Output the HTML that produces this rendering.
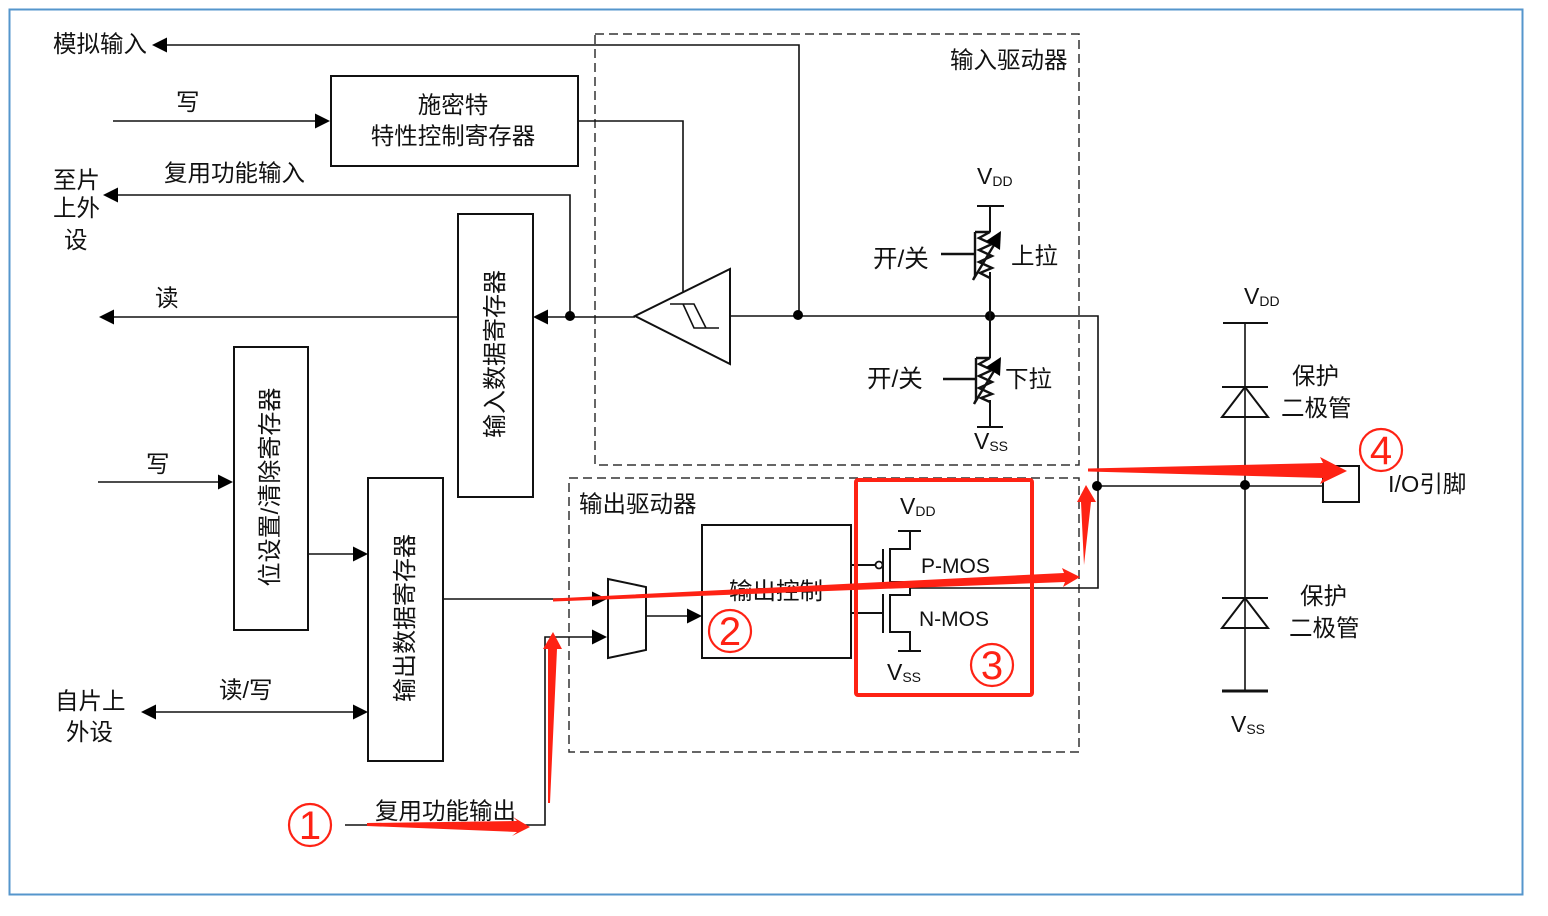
<!DOCTYPE html>
<html lang="zh"><head><meta charset="utf-8"><title>I/O diagram</title>
<style>
html,body{margin:0;padding:0;background:#fff}
svg{display:block}
text{font-family:"Liberation Sans","Noto Sans CJK SC",sans-serif;font-size:23.5px;fill:#111}
.l{stroke:#111;stroke-width:1.6;fill:none}
.b{stroke:#111;stroke-width:2;fill:#fff}
.d{stroke:#333;stroke-width:1.5;fill:none;stroke-dasharray:9 5}
.a{fill:#000;stroke:none}
.r{fill:#fe2214;stroke:none}
.c{fill:none;stroke:#fe2214;stroke-width:2.2}
.n{fill:#fe2214;font-size:40px;text-anchor:middle}
.v{font-size:23px}
.s{font-size:14px}
.m{font-size:21px}
.t{font-size:24px}
</style></head><body>
<svg width="1548" height="916" viewBox="0 0 1548 916" xmlns="http://www.w3.org/2000/svg">
<rect x="9.500" y="9.500" width="1513" height="885" fill="#fff" stroke="#5596cc" stroke-width="2"/>

<rect class="d" x="595" y="34" width="484" height="431"/>
<rect class="d" x="569" y="478" width="510" height="274"/>

<!-- wires -->
<path class="l" d="M160 45H799V316"/>
<path class="l" d="M113 121H320"/>
<path class="l" d="M578 121H683V293"/>
<path class="l" d="M110 195H570V316"/>
<path class="l" d="M108 317H458"/>
<path class="l" d="M540 317H635"/>
<path class="l" d="M730 316H1098V588H910"/>
<path class="l" d="M98 482H225"/>
<path class="l" d="M308 554H360"/>
<path class="l" d="M150 712H360"/>
<path class="l" d="M444 599H600"/>
<path class="l" d="M345 825H545V637H600"/>
<path class="l" d="M646 616H692"/>
<path class="l" d="M1098 486H1323"/>
<path class="l" d="M1245 323V691"/>

<!-- boxes -->
<rect class="b" x="331" y="76" width="247" height="90"/>
<rect class="b" x="458" y="214" width="75" height="283"/>
<rect class="b" x="234" y="347" width="74" height="283"/>
<rect class="b" x="368" y="478" width="75" height="283"/>
<rect class="b" x="702" y="525" width="149" height="133"/>
<path class="b" d="M608 579L646 587V650L608 658Z"/>
<rect class="b" x="1323" y="466" width="36" height="36"/>

<!-- arrowheads -->
<path class="a" d="M152 45L167 37.500V52.500Z"/>
<path class="a" d="M330 121L315 113.500V128.500Z"/>
<path class="a" d="M103 195L118 187.500V202.500Z"/>
<path class="a" d="M99 317L114 309.500V324.500Z"/>
<path class="a" d="M533 317L548 309.500V324.500Z"/>
<path class="a" d="M233 482L218 474.500V489.500Z"/>
<path class="a" d="M368 554L353 546.500V561.500Z"/>
<path class="a" d="M141 712L156 704.500V719.500Z"/>
<path class="a" d="M368 712L353 704.500V719.500Z"/>
<path class="a" d="M607 599L592 591.500V606.500Z"/>
<path class="a" d="M607 637L592 629.500V644.500Z"/>
<path class="a" d="M702 616L687 608.500V623.500Z"/>

<!-- junctions -->
<circle cx="570" cy="316" r="5" fill="#000"/>
<circle cx="798" cy="315" r="5" fill="#000"/>
<circle cx="990" cy="316" r="5" fill="#000"/>
<circle cx="1097" cy="486" r="5" fill="#000"/>
<circle cx="1245" cy="485" r="5" fill="#000"/>

<!-- schmitt -->
<path class="b" d="M635 316L730 269V364Z"/>
<path class="l" d="M670 304H694L706 328M683 304L694 328H719"/>

<!-- pull up -->
<path class="l" style="stroke-width:2" d="M977 206H1004M990 206V232M990 272V316"/>
<path class="l" style="stroke-width:2.400" d="M975 232H990L979 238L992 244L979 250L992 256L979 262L992 268L980 273L990 278"/>
<path class="l" style="stroke-width:2.400" d="M941 254H975M975 232V276L973 280M973 280L997 240"/>
<path class="a" d="M1001 231L1000 250L986 241Z"/>
<!-- pull down -->
<path class="l" style="stroke-width:2" d="M990 316V358M990 400V427M977 427H1003"/>
<path class="l" style="stroke-width:2.400" d="M976 358H990L979 364L992 370L979 376L992 382L979 388L992 394L981 398L990 402"/>
<path class="l" style="stroke-width:2.400" d="M943 379H976M976 358V400L974 404M974 404L997 366"/>
<path class="a" d="M1001 357L1000 376L986 367Z"/>

<!-- mos -->
<path class="l" style="stroke-width:2" d="M898 531H921M910 531V549H890V582H910M883 549V582M852 565H875"/>
<circle cx="879" cy="565" r="3.500" fill="#fff" stroke="#111" stroke-width="1.800"/>
<path class="l" style="stroke-width:2" d="M910 581V595H890V632H910V651M898 651H921M883 594V633M852 613H883"/>

<!-- diodes -->
<path class="l" style="stroke-width:2" d="M1223 323H1268M1222 387H1268M1245 387L1222 417H1268ZM1222 598H1268M1245 598L1222 628H1268Z"/>
<path class="l" style="stroke-width:3" d="M1222 691H1268"/>

<!-- labels -->
<text x="53" y="52">模拟输入</text>
<text x="176" y="110">写</text>
<text x="453" y="113" text-anchor="middle">施密特</text>
<text x="453" y="144" text-anchor="middle">特性控制寄存器</text>
<text x="164" y="181">复用功能输入</text>
<text x="53" y="188">至片</text>
<text x="53" y="216">上外</text>
<text x="64" y="248">设</text>
<text x="155" y="306">读</text>
<text x="146" y="472">写</text>
<text x="219" y="698">读/写</text>
<text x="55" y="709">自片上</text>
<text x="66" y="740">外设</text>
<text x="375" y="819">复用功能输出</text>
<text x="950" y="68">输入驱动器</text>
<text x="579" y="512">输出驱动器</text>
<text x="873" y="267" style="font-size:24.500px">开/关</text>
<text x="1011" y="264">上拉</text>
<text x="867" y="387" style="font-size:24.500px">开/关</text>
<text x="1005" y="387">下拉</text>
<text x="729" y="599">输出控制</text>
<text class="t" transform="translate(503,354) rotate(-90)" text-anchor="middle">输入数据寄存器</text>
<text class="t" transform="translate(278,487) rotate(-90)" text-anchor="middle">位设置/清除寄存器</text>
<text class="t" transform="translate(413,618) rotate(-90)" text-anchor="middle">输出数据寄存器</text>
<text class="m" x="921" y="573">P-MOS</text>
<text class="m" x="919" y="626">N-MOS</text>
<text x="1388" y="492">I/O引脚</text>
<text x="1292" y="384">保护</text>
<text x="1281" y="416">二极管</text>
<text x="1300" y="604">保护</text>
<text x="1289" y="636">二极管</text>
<text class="v" x="977" y="184">V<tspan class="s" dy="2">DD</tspan></text>
<text class="v" x="974" y="449">V<tspan class="s" dy="2">SS</tspan></text>
<text class="v" x="900" y="514">V<tspan class="s" dy="2">DD</tspan></text>
<text class="v" x="887" y="680">V<tspan class="s" dy="2">SS</tspan></text>
<text class="v" x="1244" y="304">V<tspan class="s" dy="2">DD</tspan></text>
<text class="v" x="1231" y="732">V<tspan class="s" dy="2">SS</tspan></text>

<!-- annotations -->
<rect x="856" y="480" width="176" height="215" rx="2" fill="none" stroke="#fe2214" stroke-width="4"/>
<path class="r" d="M367 823L517 821L513 817L530 827L512 836L517 832L367 826Z"/>
<path class="r" d="M548 803L548 649L543 649L553 632L562 649L557 649L550 803Z"/>
<path class="r" d="M553 598.500L1064 573L1062 568L1080 577L1063 587L1065 582L553 601.500Z"/>
<path class="r" d="M1084 565L1081 502L1077 502L1086 485L1096 502L1091 502Z"/>
<path class="r" d="M1088 468.500L1323 463L1320 457L1347 471L1320 484L1323 478L1088 471.500Z"/>
<circle class="c" cx="310" cy="825" r="21"/><text class="n" x="310" y="839">1</text>
<circle class="c" cx="730" cy="631" r="21"/><text class="n" x="730" y="645">2</text>
<circle class="c" cx="992" cy="665" r="21"/><text class="n" x="992" y="679">3</text>
<circle class="c" cx="1381" cy="450" r="21"/><text class="n" x="1381" y="464">4</text>
</svg>
</body></html>
